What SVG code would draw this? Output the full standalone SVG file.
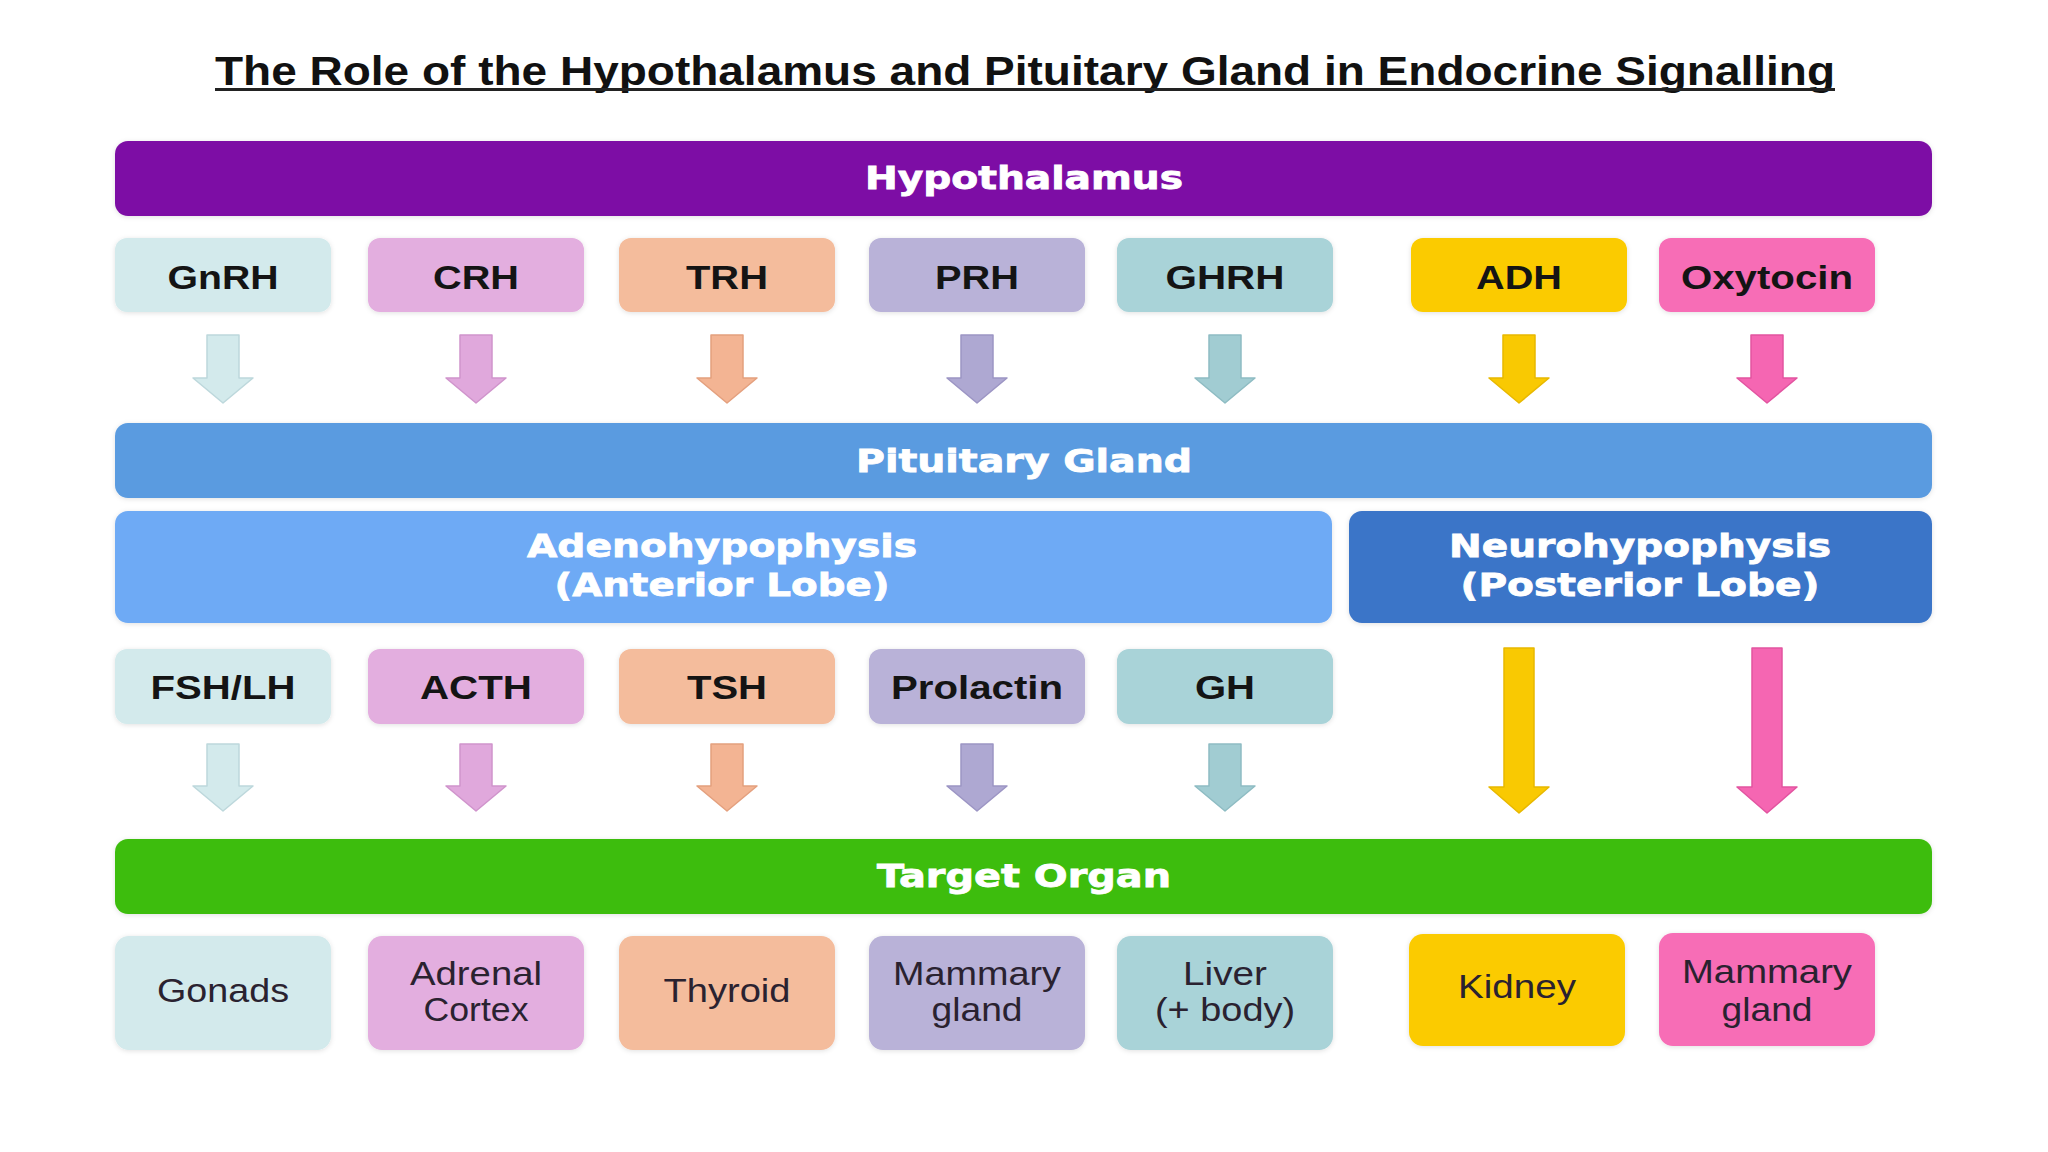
<svg xmlns="http://www.w3.org/2000/svg" width="2048" height="1152" viewBox="0 0 2048 1152">
<defs>
<filter id="sh" x="-10%" y="-20%" width="120%" height="140%">
<feDropShadow dx="0" dy="1" stdDeviation="2.5" flood-color="#000" flood-opacity="0.12"/>
</filter>
</defs>
<style>
.title{font-family:"Liberation Sans",Arial,sans-serif;font-weight:bold;font-size:40px;fill:#111}
.bar{font-family:"DejaVu Sans","Liberation Sans",sans-serif;font-weight:bold;font-size:32px;fill:#fff;stroke:#fff;stroke-width:0.8px;text-anchor:middle}
.hb{font-family:"Liberation Sans",Arial,sans-serif;font-weight:bold;font-size:34px;fill:#141414;text-anchor:middle}
.org{font-family:"Liberation Sans",Arial,sans-serif;font-size:33px;fill:#2a2230;text-anchor:middle}
.box{filter:url(#sh)}
</style>
<rect width="2048" height="1152" fill="#ffffff"/>

<g id="title">
<text class="title" x="215" y="85" textLength="1620" lengthAdjust="spacingAndGlyphs">The Role of the Hypothalamus and Pituitary Gland in Endocrine Signalling</text>
<rect x="215" y="88" width="1620" height="3" fill="#222"/>
</g>

<g id="hypothalamus">
<rect class="box" x="115" y="141" width="1817" height="75" rx="13" fill="#7D0FA5"/>
<text class="bar" x="1024" y="189" textLength="318" lengthAdjust="spacingAndGlyphs">Hypothalamus</text>
</g>

<g id="gnrh"><rect class="box" x="115" y="238" width="216" height="74" rx="12" fill="#D3EAEC"/><text class="hb" x="223" y="289" textLength="111" lengthAdjust="spacingAndGlyphs">GnRH</text></g>
<g id="crh"><rect class="box" x="368" y="238" width="216" height="74" rx="12" fill="#E3AEDF"/><text class="hb" x="476" y="289" textLength="86" lengthAdjust="spacingAndGlyphs" fill="#1e0a1e">CRH</text></g>
<g id="trh"><rect class="box" x="619" y="238" width="216" height="74" rx="12" fill="#F4BC9C"/><text class="hb" x="727" y="289" textLength="82" lengthAdjust="spacingAndGlyphs">TRH</text></g>
<g id="prh"><rect class="box" x="869" y="238" width="216" height="74" rx="12" fill="#B9B2D8"/><text class="hb" x="977" y="289" textLength="84" lengthAdjust="spacingAndGlyphs">PRH</text></g>
<g id="ghrh"><rect class="box" x="1117" y="238" width="216" height="74" rx="12" fill="#A9D3D8"/><text class="hb" x="1225" y="289" textLength="119" lengthAdjust="spacingAndGlyphs">GHRH</text></g>
<g id="adh"><rect class="box" x="1411" y="238" width="216" height="74" rx="12" fill="#FBCB06"/><text class="hb" x="1519" y="289" textLength="86" lengthAdjust="spacingAndGlyphs">ADH</text></g>
<g id="oxytocin"><rect class="box" x="1659" y="238" width="216" height="74" rx="12" fill="#F76DB6"/><text class="hb" x="1767" y="289" textLength="172" lengthAdjust="spacingAndGlyphs" fill="#3a0a22">Oxytocin</text></g>

<g id="pituitary">
<rect class="box" x="115" y="423" width="1817" height="75" rx="13" fill="#5A9BE0"/>
<text class="bar" x="1024" y="472" textLength="336" lengthAdjust="spacingAndGlyphs">Pituitary Gland</text>
</g>

<g id="adenohypophysis">
<rect class="box" x="115" y="511" width="1217" height="112" rx="13" fill="#6EAAF5"/>
<text class="bar" x="722" y="557" textLength="390" lengthAdjust="spacingAndGlyphs">Adenohypophysis</text>
<text class="bar" x="722" y="596" textLength="335" lengthAdjust="spacingAndGlyphs">(Anterior Lobe)</text>
</g>

<g id="neurohypophysis">
<rect class="box" x="1349" y="511" width="583" height="112" rx="13" fill="#3A74C8"/>
<text class="bar" x="1640" y="557" textLength="382" lengthAdjust="spacingAndGlyphs">Neurohypophysis</text>
<text class="bar" x="1640" y="596" textLength="359" lengthAdjust="spacingAndGlyphs">(Posterior Lobe)</text>
</g>

<g id="fshlh"><rect class="box" x="115" y="649" width="216" height="75" rx="12" fill="#D3EAEC"/><text class="hb" x="223" y="699" textLength="145" lengthAdjust="spacingAndGlyphs">FSH/LH</text></g>
<g id="acth"><rect class="box" x="368" y="649" width="216" height="75" rx="12" fill="#E3AEDF"/><text class="hb" x="476" y="699" textLength="112" lengthAdjust="spacingAndGlyphs" fill="#1e0a1e">ACTH</text></g>
<g id="tsh"><rect class="box" x="619" y="649" width="216" height="75" rx="12" fill="#F4BC9C"/><text class="hb" x="727" y="699" textLength="80" lengthAdjust="spacingAndGlyphs">TSH</text></g>
<g id="prolactin"><rect class="box" x="869" y="649" width="216" height="75" rx="12" fill="#B9B2D8"/><text class="hb" x="977" y="699" textLength="172" lengthAdjust="spacingAndGlyphs">Prolactin</text></g>
<g id="gh"><rect class="box" x="1117" y="649" width="216" height="75" rx="12" fill="#A9D3D8"/><text class="hb" x="1225" y="699" textLength="60" lengthAdjust="spacingAndGlyphs">GH</text></g>

<g id="target-organ">
<rect class="box" x="115" y="839" width="1817" height="75" rx="13" fill="#3DBD0B"/>
<text class="bar" x="1024" y="887" textLength="294" lengthAdjust="spacingAndGlyphs" fill="#f2ffe8">Target Organ</text>
</g>

<g id="gonads"><rect class="box" x="115" y="936" width="216" height="114" rx="14" fill="#D3EAEC"/><text class="org" x="223" y="1002" textLength="132" lengthAdjust="spacingAndGlyphs">Gonads</text></g>
<g id="adrenal-cortex"><rect class="box" x="368" y="936" width="216" height="114" rx="14" fill="#E3AEDF"/><text class="org" x="476" y="985" textLength="132" lengthAdjust="spacingAndGlyphs" fill="#3a1838">Adrenal</text><text class="org" x="476" y="1021" textLength="105" lengthAdjust="spacingAndGlyphs" fill="#3a1838">Cortex</text></g>
<g id="thyroid"><rect class="box" x="619" y="936" width="216" height="114" rx="14" fill="#F4BC9C"/><text class="org" x="727" y="1002" textLength="127" lengthAdjust="spacingAndGlyphs" fill="#3a1a10">Thyroid</text></g>
<g id="mammary-gland-1"><rect class="box" x="869" y="936" width="216" height="114" rx="14" fill="#B9B2D8"/><text class="org" x="977" y="985" textLength="168" lengthAdjust="spacingAndGlyphs">Mammary</text><text class="org" x="977" y="1021" textLength="91" lengthAdjust="spacingAndGlyphs">gland</text></g>
<g id="liver"><rect class="box" x="1117" y="936" width="216" height="114" rx="14" fill="#A9D3D8"/><text class="org" x="1225" y="985" textLength="84" lengthAdjust="spacingAndGlyphs">Liver</text><text class="org" x="1225" y="1021" textLength="140" lengthAdjust="spacingAndGlyphs">(+ body)</text></g>
<g id="kidney"><rect class="box" x="1409" y="934" width="216" height="112" rx="14" fill="#FBCB06"/><text class="org" x="1517" y="998" textLength="118" lengthAdjust="spacingAndGlyphs" fill="#2a1e00">Kidney</text></g>
<g id="mammary-gland-2"><rect class="box" x="1659" y="933" width="216" height="113" rx="14" fill="#F76DB6"/><text class="org" x="1767" y="983" textLength="170" lengthAdjust="spacingAndGlyphs" fill="#3a0a22">Mammary</text><text class="org" x="1767" y="1021" textLength="91" lengthAdjust="spacingAndGlyphs" fill="#3a0a22">gland</text></g>

<g id="connectors" stroke-width="1.5" stroke-linejoin="round">
<path d="M207,335H239V378H253L223,403L193,378H207Z" fill="#D3EAEC" stroke="#BDD8DC"/>
<path d="M460,335H492V378H506L476,403L446,378H460Z" fill="#E0A8DC" stroke="#D094CC"/>
<path d="M711,335H743V378H757L727,403L697,378H711Z" fill="#F3B493" stroke="#E4A07E"/>
<path d="M961,335H993V378H1007L977,403L947,378H961Z" fill="#AEA8D2" stroke="#9C95C4"/>
<path d="M1209,335H1241V378H1255L1225,403L1195,378H1209Z" fill="#A1CCD2" stroke="#8EBCC3"/>
<path d="M1503,335H1535V378H1549L1519,403L1489,378H1503Z" fill="#F9C902" stroke="#E8B800"/>
<path d="M1751,335H1783V378H1797L1767,403L1737,378H1751Z" fill="#F566B2" stroke="#E254A0"/>

<path d="M207,744H239V786H253L223,811L193,786H207Z" fill="#D3EAEC" stroke="#BDD8DC"/>
<path d="M460,744H492V786H506L476,811L446,786H460Z" fill="#E0A8DC" stroke="#D094CC"/>
<path d="M711,744H743V786H757L727,811L697,786H711Z" fill="#F3B493" stroke="#E4A07E"/>
<path d="M961,744H993V786H1007L977,811L947,786H961Z" fill="#AEA8D2" stroke="#9C95C4"/>
<path d="M1209,744H1241V786H1255L1225,811L1195,786H1209Z" fill="#A1CCD2" stroke="#8EBCC3"/>
<path d="M1504,648H1534V787H1549L1519,813L1489,787H1504Z" fill="#F9C902" stroke="#E8B800"/>
<path d="M1752,648H1782V787H1797L1767,813L1737,787H1752Z" fill="#F566B2" stroke="#E254A0"/>
</g>
</svg>
